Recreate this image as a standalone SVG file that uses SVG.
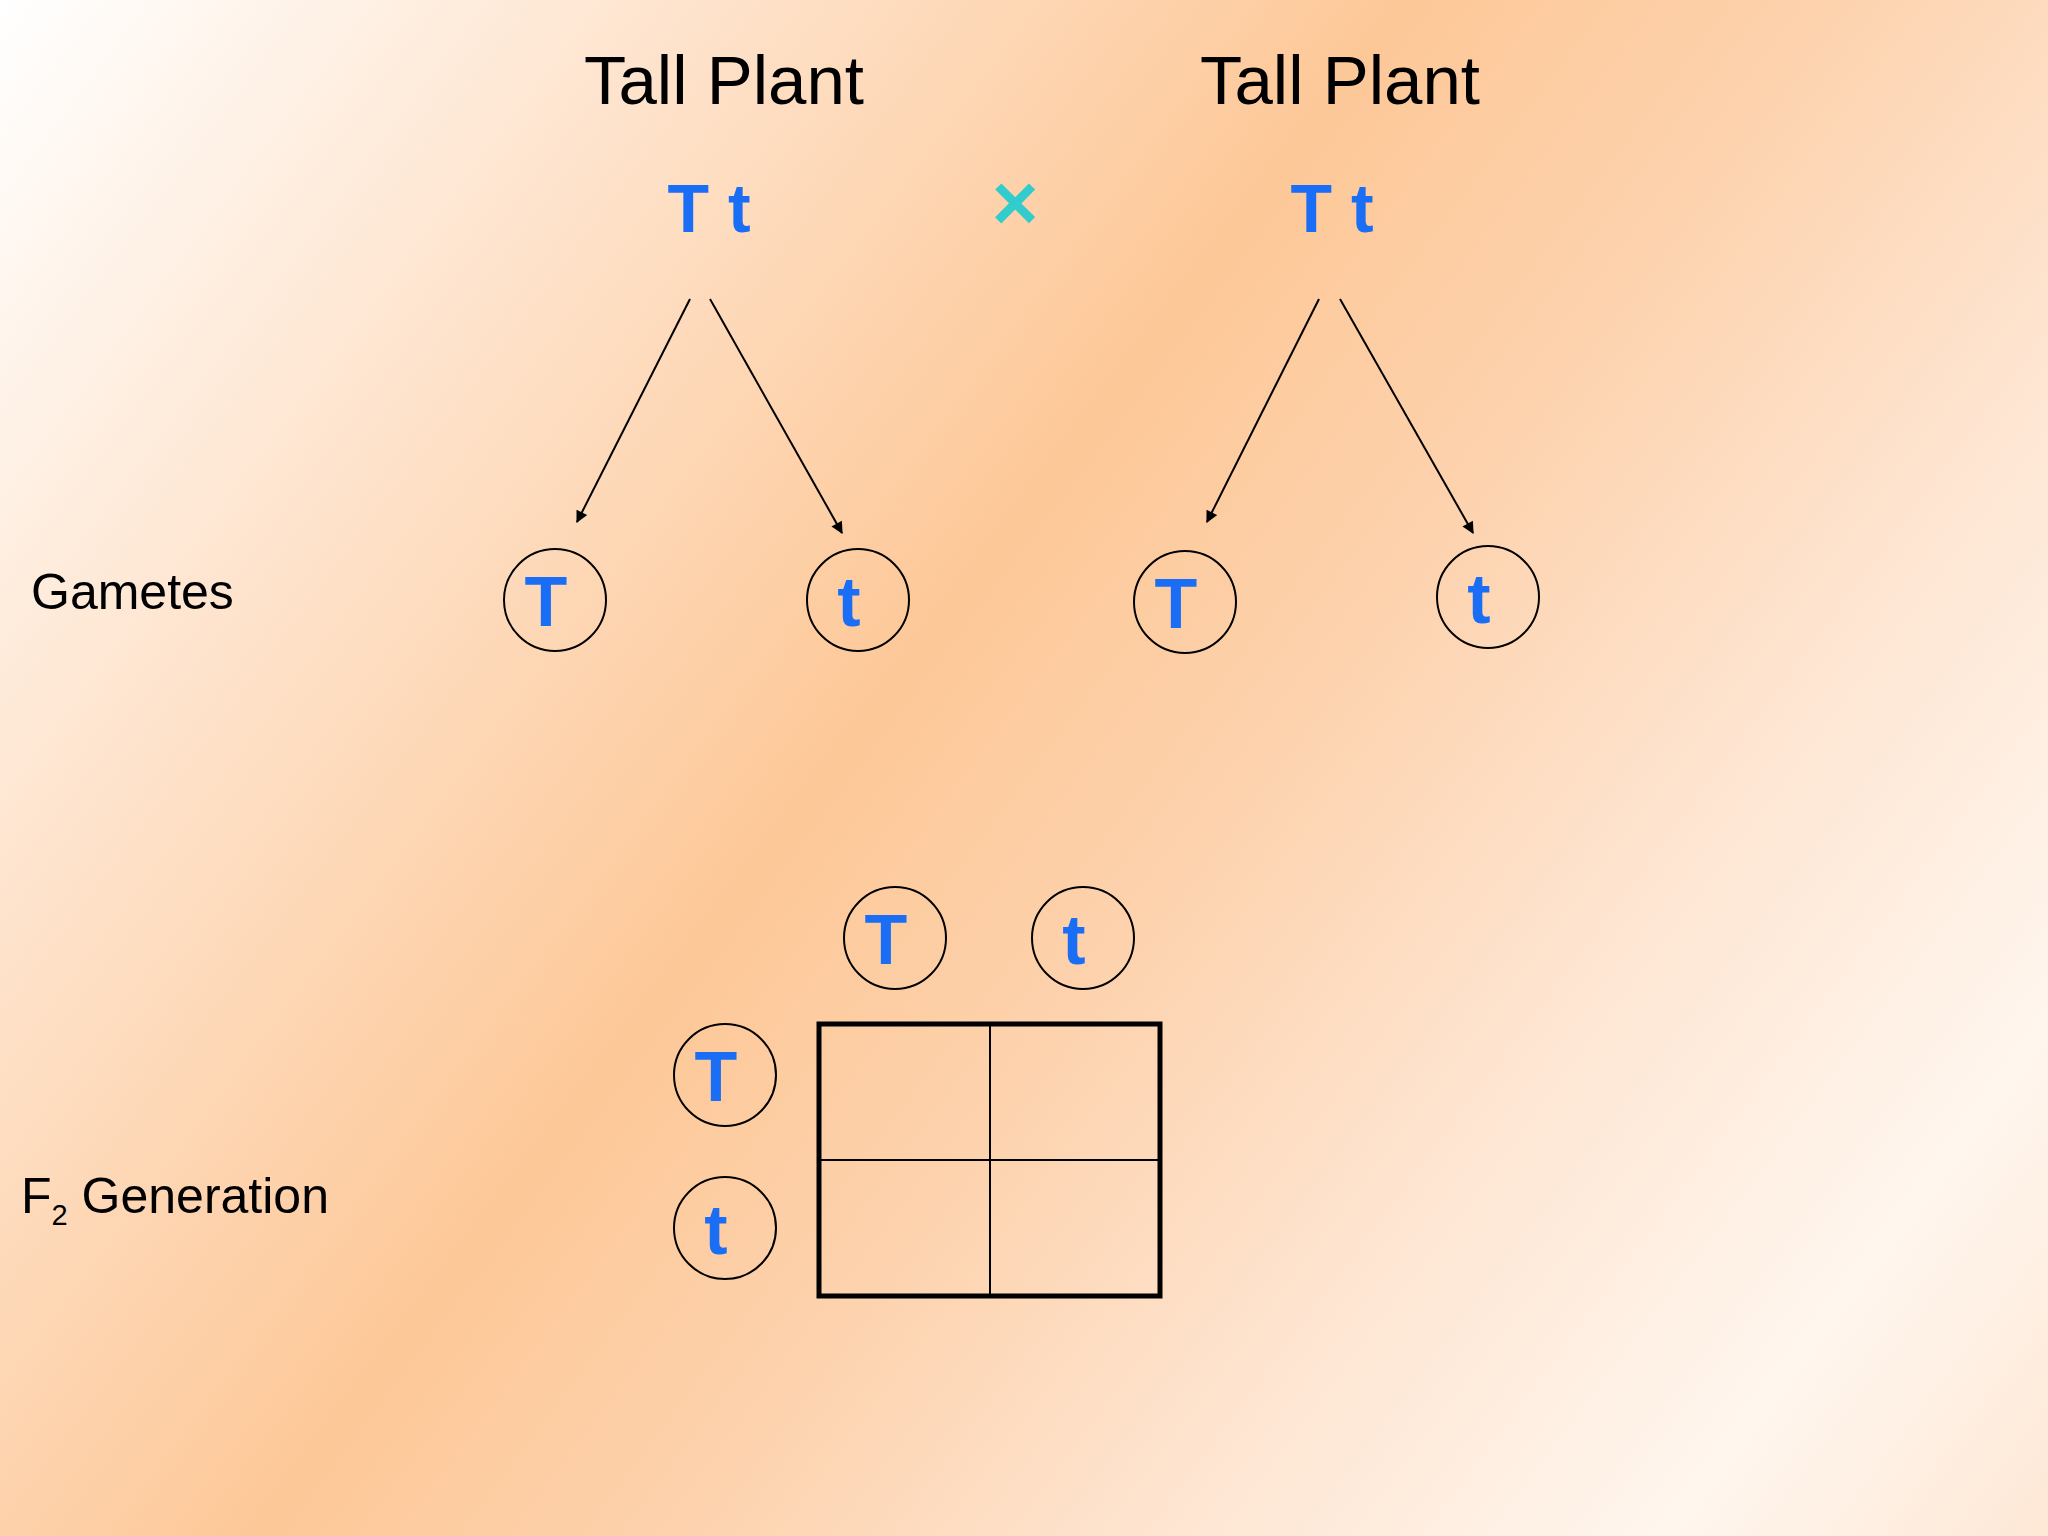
<svg xmlns="http://www.w3.org/2000/svg" width="2048" height="1536" viewBox="0 0 2048 1536">
<defs>
<linearGradient id="bg" x1="0" y1="0" x2="2048" y2="1536" gradientUnits="userSpaceOnUse">
<stop offset="0" stop-color="#ffffff"/>
<stop offset="0.22" stop-color="#fee3cc"/>
<stop offset="0.44" stop-color="#fdc898"/>
<stop offset="0.57" stop-color="#fdd2ad"/>
<stop offset="0.73" stop-color="#fee6d3"/>
<stop offset="0.88" stop-color="#fff6ee"/>
<stop offset="1" stop-color="#fee8d6"/>
</linearGradient>
<marker id="ah" viewBox="0 0 10 10" refX="9" refY="5" markerWidth="14" markerHeight="12" orient="auto" markerUnits="userSpaceOnUse"><path d="M0,0 L10,5 L0,10 z" fill="#000"/></marker>
<style>
.t{font-family:"Liberation Sans",Arial,sans-serif;fill:#000}
.g{font-family:"Liberation Sans",Arial,sans-serif;font-weight:bold;fill:#1a6ef5;text-anchor:middle}
.c{fill:none;stroke:#000;stroke-width:2}
.a{stroke:#000;stroke-width:2;marker-end:url(#ah)}
</style>
</defs>
<rect width="2048" height="1536" fill="url(#bg)"/>
<g id="titles">
<text class="t" x="724" y="104" font-size="69" text-anchor="middle">Tall Plant</text>
<text class="t" x="1340" y="104" font-size="69" text-anchor="middle">Tall Plant</text>
</g>
<g id="parent1"><text class="g" x="709" y="232" font-size="68">T t</text></g>
<g id="cross"><text x="1015" y="230" font-size="80" font-family="Liberation Sans,sans-serif" font-weight="bold" fill="#33cccc" text-anchor="middle">×</text></g>
<g id="parent2"><text class="g" x="1332" y="232" font-size="68">T t</text></g>
<g id="connectors">
<line class="a" x1="690" y1="299" x2="577" y2="522"/>
<line class="a" x1="710" y1="299" x2="842" y2="533"/>
<line class="a" x1="1319" y1="299" x2="1207" y2="522"/>
<line class="a" x1="1340" y1="299" x2="1473" y2="533"/>
</g>
<g id="gametes-label"><text class="t" x="31" y="609" font-size="50">Gametes</text></g>
<g id="g1"><circle class="c" cx="555" cy="600" r="51"/><text class="g" x="546" y="626" font-size="70">T</text></g>
<g id="g2"><circle class="c" cx="858" cy="600" r="51"/><text class="g" x="849" y="626" font-size="70">t</text></g>
<g id="g3"><circle class="c" cx="1185" cy="602" r="51"/><text class="g" x="1176" y="628" font-size="70">T</text></g>
<g id="g4"><circle class="c" cx="1488" cy="597" r="51"/><text class="g" x="1479" y="623" font-size="70">t</text></g>
<g id="p1"><circle class="c" cx="895" cy="938" r="51"/><text class="g" x="886" y="964" font-size="70">T</text></g>
<g id="p2"><circle class="c" cx="1083" cy="938" r="51"/><text class="g" x="1074" y="964" font-size="70">t</text></g>
<g id="p3"><circle class="c" cx="725" cy="1075" r="51"/><text class="g" x="716" y="1101" font-size="70">T</text></g>
<g id="p4"><circle class="c" cx="725" cy="1228" r="51"/><text class="g" x="716" y="1254" font-size="70">t</text></g>
<g id="punnett">
<rect x="819" y="1024" width="341" height="272" fill="none" stroke="#000" stroke-width="5"/>
<line x1="990" y1="1024" x2="990" y2="1296" stroke="#000" stroke-width="2"/>
<line x1="819" y1="1160" x2="1160" y2="1160" stroke="#000" stroke-width="2"/>
</g>
<g id="f2-label"><text class="t" x="21" y="1213" font-size="50">F<tspan font-size="29" dy="12">2</tspan><tspan dy="-12"> Generation</tspan></text></g>
</svg>
